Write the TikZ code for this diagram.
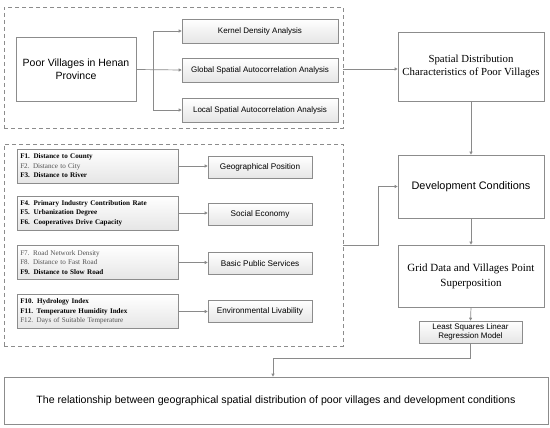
\documentclass[tikz,border=0pt]{standalone}
\usepackage{fontspec}
\setmainfont{Liberation Serif}
\setsansfont{Liberation Sans}
\usetikzlibrary{arrows.meta}
\definecolor{bord}{HTML}{8C8C8C}
\definecolor{lnk}{HTML}{8A8A8A}
\definecolor{ftxt}{HTML}{505050}
\tikzset{
  bigbox/.style={draw=bord, line width=0.7pt, fill=white, inner sep=0pt, align=center},
  gradbox/.style={draw=bord, line width=0.6pt, top color=white, bottom color=black!10, inner sep=0pt, align=center},
  fbox/.style={draw=bord, line width=0.6pt, top color=white, bottom color=black!10, inner sep=3pt, align=left, anchor=west, minimum width=161pt, minimum height=34pt, text width=155pt},
  lbl/.style={gradbox, minimum width=104pt, minimum height=22pt, font=\sffamily\fontsize{8.2}{9.5}\selectfont},
  anl/.style={gradbox, minimum width=156pt, minimum height=24pt, font=\sffamily\fontsize{8}{9.5}\selectfont},
  dbox/.style={draw=black!45, line width=0.8pt, dash pattern=on 4pt off 3pt, inner sep=0pt},
  arr/.style={draw=lnk, line width=0.7pt, -{Triangle[width=3pt,length=3pt]}},
  lin/.style={draw=lnk, line width=0.7pt},
}
\newcommand{\fl}[1]{{\bfseries #1}}
\newcommand{\fg}[1]{{\color{ftxt}#1}}
\begin{document}
\begin{tikzpicture}[x=1pt,y=-1pt]
\useasboundingbox (0,0) rectangle (550,428);
% dashed group boxes
\node[dbox, minimum width=339pt, minimum height=121pt] (dash1) at (173.5,67.5) {};
\node[dbox, minimum width=339pt, minimum height=202pt] (dash2) at (173.5,245) {};
% top group
\node[bigbox, minimum width=120pt, minimum height=64pt, font=\sffamily\fontsize{10.5}{13}\selectfont] (poor) at (76,69.5) {Poor Villages in Henan\\Province};
\node[anl] (kernel) at (260,31) {Kernel Density Analysis};
\node[anl] (global) at (260,70) {Global Spatial Autocorrelation Analysis};
\node[anl] (local) at (260,110) {Local Spatial Autocorrelation Analysis};
% right column
\node[bigbox, minimum width=146pt, minimum height=69pt, font=\rmfamily\fontsize{10.8}{12.5}\selectfont] (spatial) at (471,66.5) {Spatial Distribution\\Characteristics of Poor Villages};
\node[bigbox, minimum width=146pt, minimum height=63pt, font=\sffamily\fontsize{10.9}{13}\selectfont] (dev) at (471,186.5) {Development Conditions};
\node[bigbox, minimum width=146pt, minimum height=62pt, font=\rmfamily\fontsize{11}{15}\selectfont] (grid) at (471,276) {Grid Data and Villages Point\\Superposition};
\node[gradbox, minimum width=103pt, minimum height=22pt, font=\sffamily\fontsize{8}{9.5}\selectfont] (lsq) at (470.5,332) {Least Squares Linear\\Regression Model};
\node[bigbox, minimum width=544pt, minimum height=47pt, font=\sffamily\fontsize{10.6}{12}\selectfont] (bottom) at (276,400.5) {The relationship between geographical spatial distribution of poor villages and development conditions};
% factor boxes
\begin{scope}[font=\rmfamily\fontsize{7.1}{9.5}\selectfont]
\node[fbox] (f1) at (17,166) {\fl{F1. Distance to County}\\\fg{F2. Distance to City}\\\fl{F3. Distance to River}};
\node[fbox] (f4) at (17,213) {\fl{F4. Primary Industry Contribution Rate}\\\fl{F5. Urbanization Degree}\\\fl{F6. Cooperatives Drive Capacity}};
\node[fbox] (f7) at (17,262.5) {\fg{F7. Road Network Density}\\\fg{F8. Distance to Fast Road}\\\fl{F9. Distance to Slow Road}};
\node[fbox] (f10) at (17,311.5) {\fl{F10. Hydrology Index}\\\fl{F11. Temperature Humidity Index}\\\fg{F12. Days of Suitable Temperature}};
\end{scope}
\node[lbl] (geo) at (260,167.5) {Geographical Position};
\node[lbl] (soc) at (260,214) {Social Economy};
\node[lbl] (bas) at (260,263.5) {Basic Public Services};
\node[lbl] (env) at (260,311.5) {Environmental Livability};
% connectors
\coordinate (br) at (153,69.5);
\draw[arr] (poor.east) -- (global.west);
\draw[arr] (br) |- (kernel.west);
\draw[arr] (br) |- (local.west);
\draw[arr] (dash1.east |- 0,69) -- (spatial.west |- 0,69);
\draw[arr] (spatial.south) -- (dev.north);
\draw[arr] (dev.south) -- (grid.north);
\draw[arr] (grid.south) -- (lsq.north);
\coordinate (j) at (273,358);
\draw[arr] (lsq.south) |- (j) -- (j |- bottom.north);
\draw[arr] (f1.east) -- (geo.west |- f1.east);
\draw[arr] (f4.east) -- (soc.west |- f4.east);
\draw[arr] (f7.east) -- (bas.west |- f7.east);
\draw[arr] (f10.east) -- (env.west |- f10.east);
\coordinate (k) at (378,245);
\draw[arr] (dash2.east) -- (k) |- (dev.west);
\end{tikzpicture}
\end{document}
